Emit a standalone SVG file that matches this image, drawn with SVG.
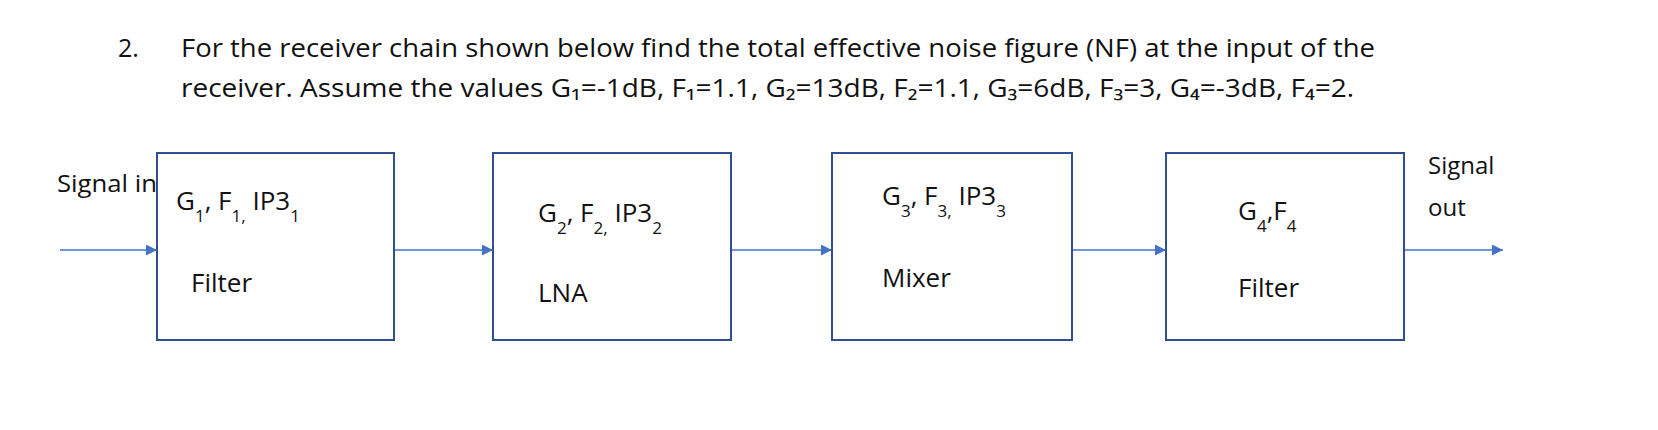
<svg xmlns="http://www.w3.org/2000/svg" width="1658" height="430" viewBox="0 0 1658 430">
<defs>
<marker id="ah" viewBox="0 0 10 10" refX="10" refY="5" markerWidth="11" markerHeight="11" markerUnits="userSpaceOnUse" orient="auto"><path d="M0,0 L10,5 L0,10 z" fill="#4472C4"/></marker>
<style>
text{font-family:"Open Sans","Liberation Sans",sans-serif;fill:#111;font-size:24px}
.h{font-size:25px}
.b{font-size:26px}
.box{fill:#fff;stroke:#2F4F8F;stroke-width:2}
.c{stroke:#4472C4;stroke-width:1.5;fill:none;marker-end:url(#ah)}
.s{font-size:17px}
</style>
</defs>
<rect width="1658" height="430" fill="#fff"/>
<text class="h" x="118" y="57">2.</text>
<text class="h" x="181" y="57" textLength="1194" lengthAdjust="spacingAndGlyphs">For the receiver chain shown below find the total effective noise figure (NF) at the input of the</text>
<text class="h" x="181" y="97" textLength="1173" lengthAdjust="spacingAndGlyphs">receiver.  Assume the values G₁=-1dB, F₁=1.1, G₂=13dB, F₂=1.1, G₃=6dB, F₃=3, G₄=-3dB, F₄=2.</text>
<text x="57" y="192" textLength="100" lengthAdjust="spacingAndGlyphs">Signal in</text>
<text x="1428" y="174">Signal</text>
<text x="1428" y="216">out</text>
<g id="connectors">
<line class="c" x1="60" y1="250" x2="157" y2="250"/>
<line class="c" x1="394" y1="250" x2="493" y2="250"/>
<line class="c" x1="731" y1="250" x2="832" y2="250"/>
<line class="c" x1="1072" y1="250" x2="1166" y2="250"/>
<line class="c" x1="1404" y1="250" x2="1503" y2="250"/>
</g>
<g id="n1"><rect class="box" x="157" y="153" width="237" height="187"/>
<text class="b" x="176" y="210">G<tspan class="s" dy="12">1</tspan><tspan dy="-12">, F</tspan><tspan class="s" dy="12">1,</tspan><tspan dy="-12"> IP3</tspan><tspan class="s" dy="12">1</tspan></text>
<text class="b" x="191" y="292">Filter</text></g>
<g id="n2"><rect class="box" x="493" y="153" width="238" height="187"/>
<text class="b" x="538" y="222">G<tspan class="s" dy="12">2</tspan><tspan dy="-12">, F</tspan><tspan class="s" dy="12">2,</tspan><tspan dy="-12"> IP3</tspan><tspan class="s" dy="12">2</tspan></text>
<text class="b" x="538" y="302">LNA</text></g>
<g id="n3"><rect class="box" x="832" y="153" width="240" height="187"/>
<text class="b" x="882" y="205">G<tspan class="s" dy="12">3</tspan><tspan dy="-12">, F</tspan><tspan class="s" dy="12">3,</tspan><tspan dy="-12"> IP3</tspan><tspan class="s" dy="12">3</tspan></text>
<text class="b" x="882" y="287">Mixer</text></g>
<g id="n4"><rect class="box" x="1166" y="153" width="238" height="187"/>
<text class="b" x="1238" y="220">G<tspan class="s" dy="12">4</tspan><tspan dy="-12">,F</tspan><tspan class="s" dy="12">4</tspan></text>
<text class="b" x="1238" y="297">Filter</text></g>
</svg>
